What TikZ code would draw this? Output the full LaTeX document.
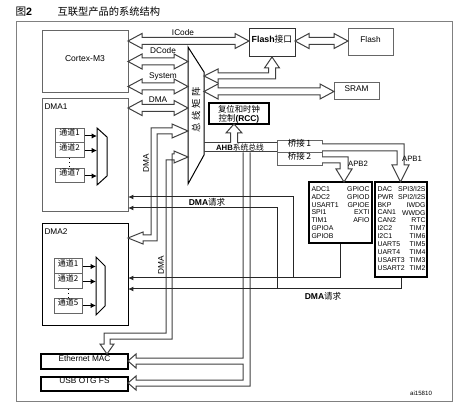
\documentclass[tikz,border=0pt]{standalone}
\usepackage{fontspec}
\setmainfont{Liberation Sans}
\newfontfamily\cjk{Noto Sans CJK SC}
\usetikzlibrary{arrows.meta,fit}

\tikzset{every picture/.style={line width=0.75pt}}
\tikzset{
	blk/.style={draw=black!60, inner sep=0pt},
	heavyblk/.style={draw=black, line width=1.5pt, inner sep=0pt},
	pipe/.style={draw=black!75, line join=miter, fill=white},
	req/.style={draw=black!85, -{Latex[length=4pt,width=3.6pt]}},
	chan/.style={draw=black, -{Latex[length=4pt,width=4pt]}},
	lbl/.style={inner sep=0pt, font=\fontsize{6.2}{7}\selectfont},
	tiny/.style={inner sep=0pt, font=\fontsize{5.2}{5.9}\selectfont},
	chlbl/.style={blk, font=\fontsize{6}{7}\cjk}
}
% hollow bus arrow with two heads: x1, x2, y
\newcommand{\dualpipe}[3]{%
	\draw[pipe] (#1,#3) -- ({#1+14},{#3-7.5}) -- ({#1+14},{#3-3.5}) -- ({#2-14},{#3-3.5}) -- ({#2-14},{#3-7.5}) -- (#2,#3) -- ({#2-14},{#3+7.5}) -- ({#2-14},{#3+3.5}) -- ({#1+14},{#3+3.5}) -- ({#1+14},{#3+7.5}) -- cycle;}

\begin{document}
\begin{tikzpicture}[x=0.75pt,y=0.75pt,yscale=-1,xscale=1]
	\useasboundingbox (0,0) rectangle (474,409);

	% Text Node
	\node[anchor=west, inner sep=0pt, font=\fontsize{8}{9}\selectfont] (fignum) at (15,12) {{\cjk 图}\textbf{2}};
	% Text Node
	\node[anchor=west, inner sep=0pt, font=\fontsize{7.7}{9}\cjk] (title) at (57,12) {互联型产品的系统结构};

	%Shape: Rectangle [outer frame]
	\draw[draw=black!50] (16,22) rectangle (452,401);

	%Shape: Rectangle [Cortex-M3]
	\node[blk, fit={(42,31) (128,93)}, font=\fontsize{6.4}{7}\selectfont] (cpu) {Cortex-M3};

	%Shape: Rectangle [DMA1]
	\node[blk, fit={(42,99) (128,212)}] (dma1) {};
	\node[lbl, anchor=west] (dma1txt) at (44,107) {DMA1};
	\node[chlbl, fit={(55,129) (84,143)}] (ch11) {通道1};
	\node[chlbl, fit={(55,143) (84,158)}] (ch12) {通道2};
	\node[chlbl, fit={(55,169) (84,183)}] (ch17) {通道7};
	\draw[dotted] (ch12.south) -- (ch17.north);
	\draw (97,128) -- (107,137) -- (107,176) -- (97,185) -- cycle;
	\coordinate (mux1) at (97,156);
	\draw[chan] (ch11.east) -- (ch11.east -| mux1);
	\draw[chan] (ch12.east) -- (ch12.east -| mux1);
	\draw[chan] (ch17.east) -- (ch17.east -| mux1);

	%Shape: Rectangle [DMA2]
	\node[blk, draw=black, fit={(42,224) (128,325)}] (dma2) {};
	\node[lbl, anchor=west] (dma2txt) at (44,232) {DMA2};
	\node[chlbl, fit={(54,259) (82,274)}] (ch21) {通道1};
	\node[chlbl, fit={(54,274) (82,289)}] (ch22) {通道2};
	\node[chlbl, fit={(54,298) (82,313)}] (ch25) {通道5};
	\draw[dotted] (ch22.south) -- (ch25.north);
	\draw (96,257) -- (105,266) -- (105,306) -- (96,315) -- cycle;
	\coordinate (mux2) at (96,286);
	\draw[chan] (ch21.east) -- (ch21.east -| mux2);
	\draw[chan] (ch22.east) -- (ch22.east -| mux2);
	\draw[chan] (ch25.east) -- (ch25.east -| mux2);

	%Shape: Rectangle [Ethernet, USB]
	\node[blk, draw=black, line width=1pt, fit={(41,354) (128,369)}, font=\fontsize{6.2}{7}\selectfont] (eth) {Ethernet MAC};
	\node[blk, draw=black, line width=1pt, fit={(41,377) (128,391)}, font=\fontsize{6.2}{7}\selectfont] (usb) {USB OTG FS};

	%Shape: Polygon [bus matrix]
	\draw[fill=white] (188,47) -- (204,72) -- (204,155) -- (188,184) -- cycle;
	\node[rotate=90, inner sep=0pt, font=\fontsize{7}{8}\cjk] (busmx) at (196,110) {总\hspace{2pt}线\hspace{2pt}矩\hspace{2pt}阵};

	%Shape: Rectangle [memories, RCC, bridges]
	\node[blk, draw=black!80, fit={(249,29) (295,57)}, font=\fontsize{6.6}{7}\selectfont] (flashif) {\textbf{Flash}{\cjk 接口}};
	\node[blk, fit={(348,29) (393,56)}, font=\fontsize{6.2}{7}\selectfont] (flash) {Flash};
	\node[blk, fit={(334,83) (379,100)}, font=\fontsize{6.2}{7}\selectfont] (sram) {SRAM};
	\node[heavyblk, fit={(209,103) (269,124)}] (rcc) {};
	\node[inner sep=0pt, font=\fontsize{6.3}{7}\cjk] (rcctop) at (239,109.5) {复位和时钟};
	\node[inner sep=0pt, font=\fontsize{6.3}{7}\selectfont] (rccbot) at (239,119) {{\cjk 控制}\textbf{(RCC)}};
	\node[chlbl, fit={(277,141) (322,153)}, font=\fontsize{6.4}{7}\cjk] (br1) {桥接\,1};
	\node[chlbl, fit={(277,153) (322,166)}, font=\fontsize{6.4}{7}\cjk] (br2) {桥接\,2};
	\node[heavyblk, fit={(309,182) (372,243)}] (apb2) {};
	\node[heavyblk, fit={(375,182) (427,277)}] (apb1) {};

	% Text Node [APB2 peripherals]
	\node[tiny, anchor=north west, align=left] (apb2l) at (311,186) {ADC1\\ADC2\\USART1\\SPI1\\TIM1\\GPIOA\\GPIOB};
	\node[tiny, anchor=north east, align=right] (apb2r) at (370,186) {GPIOC\\GPIOD\\GPIOE\\EXTI\\AFIO};
	% Text Node [APB1 peripherals]
	\node[tiny, anchor=north west, align=left] (apb1l) at (377,186) {DAC\\PWR\\BKP\\CAN1\\CAN2\\I2C2\\I2C1\\UART5\\UART4\\USART3\\USART2};
	\node[tiny, anchor=north east, align=right] (apb1r) at (426,186) {SPI3/I2S\\SPI2/I2S\\IWDG\\WWDG\\RTC\\TIM7\\TIM6\\TIM5\\TIM4\\TIM3\\TIM2};

	% hollow buses
	\dualpipe{128}{249}{41}
	\dualpipe{128}{188}{61.5}
	\dualpipe{128}{188}{86.5}
	\dualpipe{128}{188}{108}
	\dualpipe{295}{348}{41}
	\dualpipe{204}{334}{91.5}
	\node[lbl] (icode) at (183,33) {ICode};
	\node[lbl] (dcode) at (163,51) {DCode};
	\node[lbl] (sysbus) at (163,76) {System};
	\node[lbl] (dmabus) at (158,100) {DMA};

	% matrix <-> Flash interface
	\draw[pipe] (204,76) -- (218,69) -- (218,73) -- (268.5,73) -- (268.5,68) -- (264.5,68) -- (272,57) -- (279.5,68) -- (275.5,68) -- (275.5,79) -- (218,79) -- (218,83) -- cycle;
	% AHB bus
	\draw[draw=black!75] (204,143) -- (br1.west |- 0,143);
	\draw[draw=black!75] (204,152) -- (br1.west |- 0,152);
	\draw[pipe] (230.5,143) -- (230.5,133) -- (226,133) -- (234,124) -- (242,133) -- (237.5,133) -- (237.5,143);
	\node[inner sep=0pt, font=\fontsize{5.8}{7}\selectfont] (ahb) at (240,147.5) {\textbf{AHB}{\cjk 系统总线}};
	% AHB down to Ethernet MAC and USB OTG FS
	\draw[pipe] (243,152.4) -- (243,358) -- (136,358) -- (136,354) -- (128,361) -- (136,368) -- (136,364) -- (243,364) -- (243,380) -- (136,380) -- (136,376) -- (128,383) -- (136,390) -- (136,386) -- (250,386) -- (250,152.4);
	% DMA2 <-> matrix
	\draw[pipe] (128,238) -- (143,232) -- (143,235) -- (151,235) -- (151,128) -- (172,128) -- (172,124) -- (188,131) -- (172,138) -- (172,134) -- (157,134) -- (157,241) -- (143,241) -- (143,244) -- cycle;
	\node[lbl, rotate=90] (dma2bus) at (146,163) {DMA};
	% Ethernet DMA <-> matrix
	\draw[pipe] (188,157) -- (174,151) -- (174,154) -- (172,154) -- (172,339) -- (110,339) -- (110,344) -- (114,344) -- (107,354) -- (100,344) -- (104,344) -- (104,333) -- (166,333) -- (166,160) -- (174,160) -- (174,163) -- cycle;
	\node[lbl, rotate=90] (ethbus) at (161,265) {DMA};
	% APB2, APB1
	\draw[pipe] (322,157) -- (348,157) -- (348,169) -- (352,169) -- (344,182) -- (336,169) -- (340,169) -- (340,163) -- (322,163);
	\draw[pipe] (322,144) -- (404,144) -- (404,165) -- (409,165) -- (400.5,182) -- (392,165) -- (397,165) -- (397,151) -- (322,151);
	\node[inner sep=0pt, font=\fontsize{5.8}{7}\selectfont] (apb2txt) at (358,164) {APB2};
	\node[inner sep=0pt, font=\fontsize{5.8}{7}\selectfont] (apb1txt) at (412,159) {APB1};

	% DMA requests
	\coordinate (d1a) at (128,197);
	\coordinate (d1b) at (128,208);
	\coordinate (d2a) at (128,278);
	\coordinate (d2b) at (128,289);
	\draw[req] (apb2.south) |- (d2a);
	\draw[req] (293,278) |- (d1a);
	\draw[req] (apb1.south) |- (d2b);
	\draw[req] (277,289) |- (d1b);
	\node[inner sep=0pt, font=\fontsize{6.4}{7}\selectfont] (req1) at (207,202.5) {\textbf{DMA}{\cjk 请求}};
	\node[inner sep=0pt, font=\fontsize{6.4}{7}\selectfont] (req2) at (323,296) {\textbf{DMA}{\cjk 请求}};

	% Text Node
	\node[inner sep=0pt, font=\fontsize{4.6}{5}\selectfont] (code) at (421,393) {ai15810};

\end{tikzpicture}
\end{document}
